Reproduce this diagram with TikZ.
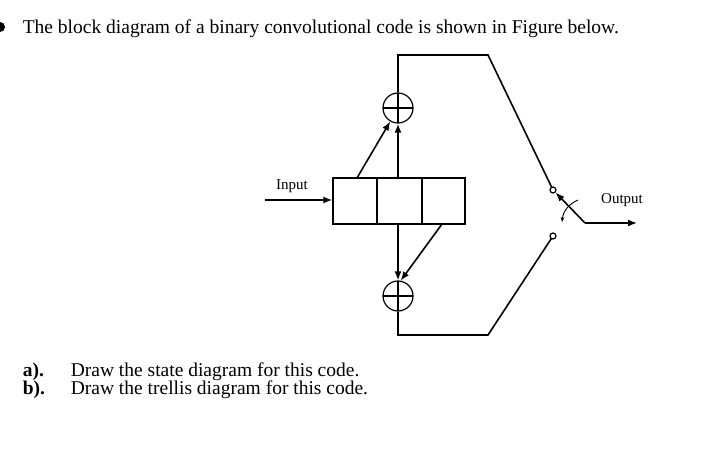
\documentclass[tikz,border=0pt]{standalone}
\usepackage{fontspec}
\setmainfont{Liberation Serif}
\usetikzlibrary{arrows.meta}
\begin{document}
\begin{tikzpicture}[x=1pt,y=-1pt,line width=1.6pt,
  tip/.style={-{Latex[length=9pt,width=7pt]}},
  adder/.style={circle,draw,minimum size=30pt,inner sep=0pt,line width=1.2pt,path picture={\draw[line width=1.2pt] (path picture bounding box.west)--(path picture bounding box.east)(path picture bounding box.north)--(path picture bounding box.south);}},
  contact/.style={circle,draw,fill=white,minimum size=6pt,inner sep=0pt,line width=1.2pt},
  txt/.style={anchor=base west,inner sep=0pt,font=\fontsize{19.5}{23}\selectfont},
  lbl/.style={inner sep=0pt,font=\fontsize{15}{18}\selectfont}]
\useasboundingbox (0,0) rectangle (705,455);
\fill (0,27) circle (5);
\node[txt] (title) at (22,33) {The block diagram of a binary convolutional code is shown in Figure below.};
\node[txt] (qa) at (22,376) {\textbf{a).}};
\node[txt] (qat) at (70,376) {Draw the state diagram for this code.};
\node[txt] (qb) at (22,394) {\textbf{b).}};
\node[txt] (qbt) at (70,394) {Draw the trellis diagram for this code.};
% register
\node[draw,line width=1.2pt,minimum width=132pt,minimum height=46pt,inner sep=0pt] (reg) at (399,201) {};
\draw[line width=1.2pt] (377,178)--(377,224) (422,178)--(422,224);
\node[adder] (a1) at (398,108) {};
\node[adder] (a2) at (398,296) {};
\coordinate (in0) at (265,200);
\draw[tip] (in0)--(reg.west|-in0);
\node[lbl] (inl) at (292,186) {Input};
\draw[tip] (357,178)--(a1.-120);
\draw[tip] (398,178)--(a1.south);
\draw[tip] (398,224)--(a2.north);
\draw[tip] (442,224)--(a2.80);
\draw (a1.north)--(398,55)--(488,55)--(553,190);
\draw (a2.south)--(398,335)--(488,335)--(553,236);
\node[contact] (c1) at (553,190) {};
\node[contact] (c2) at (553,236) {};
\coordinate (sw) at (585,223);
\coordinate (out) at (637,223);
\draw[tip] (sw)--(c1.south east);
\draw[tip] (sw)--(out);
\draw[-{Stealth[length=5pt]},line width=0.9pt] (578,200) to[bend right=30] (562,222);
\node[lbl] (outl) at (622,200) {Output};
\end{tikzpicture}
\end{document}
